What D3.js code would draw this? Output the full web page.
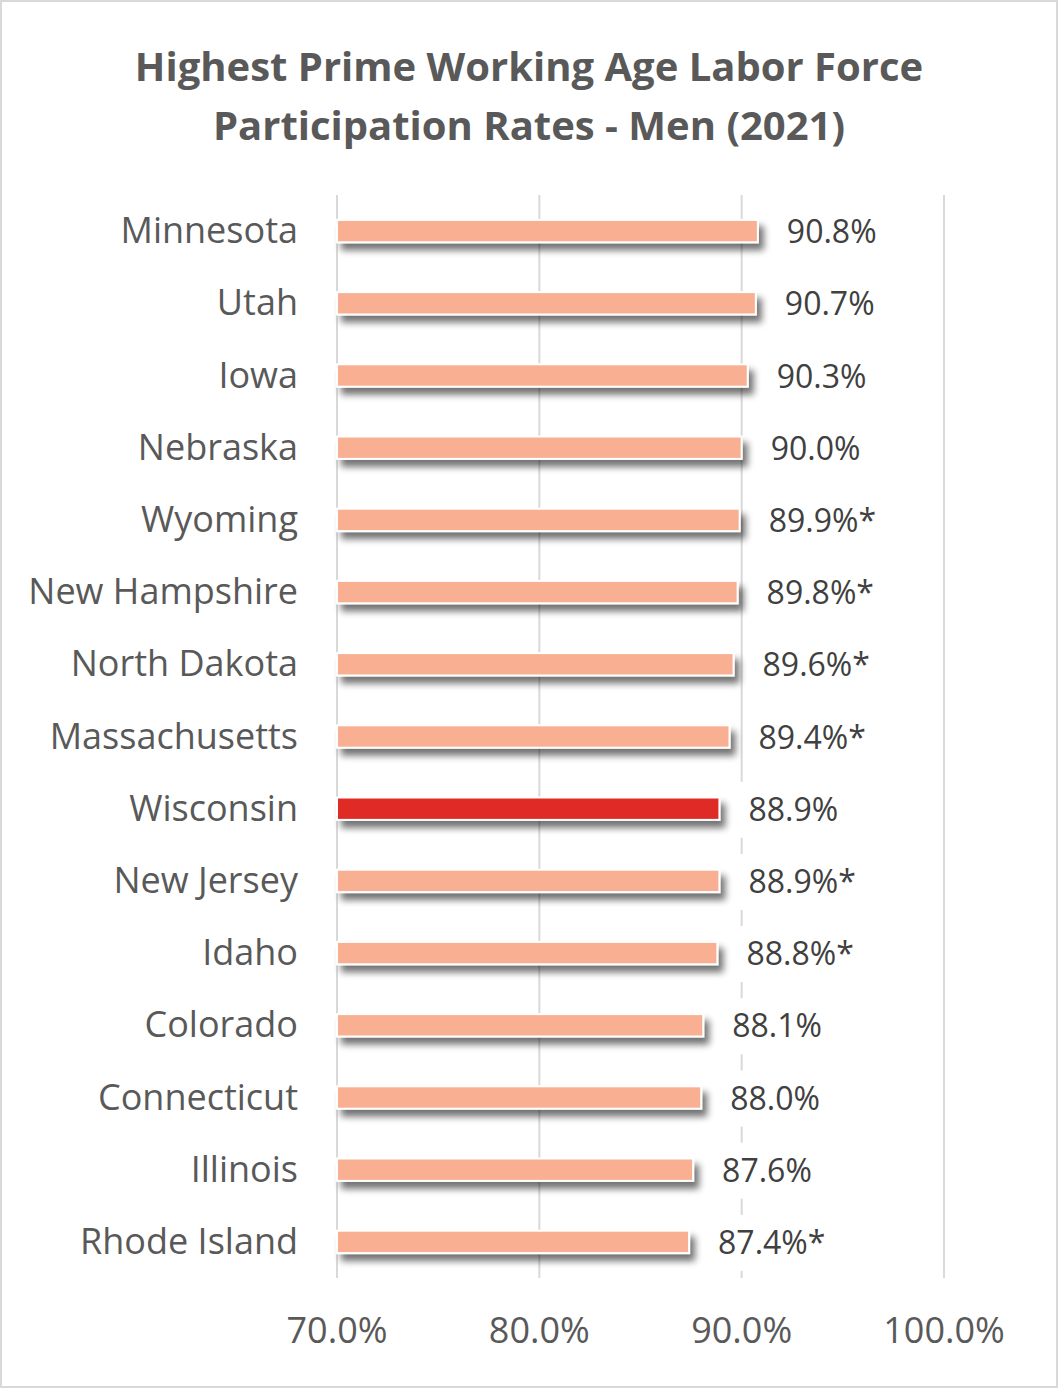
<!DOCTYPE html>
<html>
<head>
<meta charset="utf-8">
<script src="https://cdn.jsdelivr.net/npm/d3@7"></script>
<style>
  html, body { margin: 0; padding: 0; background: #fff; }
  svg { display: block; }
</style>
</head>
<body>
<svg width="1058" height="1388"></svg>
<script>
// data
var states = ['Minnesota', 'Utah', 'Iowa', 'Nebraska', 'Wyoming', 'New Hampshire',
  'North Dakota', 'Massachusetts', 'Wisconsin', 'New Jersey', 'Idaho', 'Colorado',
  'Connecticut', 'Illinois', 'Rhode Island'];
var rates = [90.8, 90.7, 90.3, 90.0, 89.9, 89.8, 89.6, 89.4, 88.9, 88.9, 88.8, 88.1, 88.0, 87.6, 87.4];
var flagged = [false, false, false, false, true, true, true, true, false, true, true, false, false, false, true];
var ticks = [70, 80, 90, 100];
var highlight = 'Wisconsin';

var rows = states.map(function (s, i) {
  return {state: s, rate: rates[i], star: flagged[i]};
});

var svg = d3.select('svg');

// outer frame
svg.append('rect')
  .attr('x', 1).attr('y', 1).attr('width', 1056).attr('height', 1386)
  .attr('fill', '#fff').attr('stroke', '#d9d9d9').attr('stroke-width', 2);

// drop shadow for bars
var defs = svg.append('defs');
var f = defs.append('filter').attr('id', 'shadow')
  .attr('x', '-5%').attr('y', '-60%').attr('width', '115%').attr('height', '260%');
f.append('feGaussianBlur').attr('in', 'SourceAlpha').attr('stdDeviation', 3.5);
f.append('feOffset').attr('dx', 5).attr('dy', 7).attr('result', 'b');
f.append('feComponentTransfer').append('feFuncA').attr('type', 'linear').attr('slope', 0.55);
var m = f.append('feMerge');
m.append('feMergeNode');
m.append('feMergeNode').attr('in', 'SourceGraphic');

// title
var title = svg.append('text')
  .attr('text-anchor', 'middle')
  .attr('font-family', '"Open Sans", sans-serif')
  .attr('font-weight', 'bold')
  .attr('font-size', 40)
  .attr('fill', '#595959');
title.append('tspan').attr('x', 529).attr('y', 81).text('Highest Prime Working Age Labor Force');
title.append('tspan').attr('x', 529).attr('y', 140).text('Participation Rates - Men (2021)');

var x = d3.scaleLinear().domain([70, 100]).range([337, 944]);
var y = d3.scaleBand().domain(states).range([195, 1278]).paddingInner(0.69).paddingOuter(0.345);

// gridlines
svg.append('g').selectAll('line')
  .data(ticks)
  .join('line')
  .attr('x1', function (d) { return x(d); })
  .attr('x2', function (d) { return x(d); })
  .attr('y1', 195).attr('y2', 1278)
  .attr('stroke', '#d9d9d9').attr('stroke-width', 2);

// bars
svg.append('g').selectAll('rect')
  .data(rows)
  .join('rect')
  .attr('x', x(70))
  .attr('y', function (d) { return y(d.state); })
  .attr('width', function (d) { return x(d.rate) - x(70); })
  .attr('height', y.bandwidth())
  .attr('fill', function (d) { return d.state === highlight ? '#df2c27' : '#f9af92'; })
  .attr('stroke', '#fff').attr('stroke-width', 2)
  .attr('filter', 'url(#shadow)');

// value labels with white boxes
var labels = svg.append('g').selectAll('g')
  .data(rows)
  .join('g')
  .attr('transform', function (d) {
    return 'translate(' + (x(d.rate) + 29) + ',' + (y(d.state) + y.bandwidth() / 2) + ')';
  });
labels.append('rect')
  .attr('x', -14).attr('y', -27)
  .attr('width', function (d) { return d.star ? 128 : 110; })
  .attr('height', 56)
  .attr('fill', '#fff');
labels.append('text')
  .attr('y', 12)
  .attr('font-family', '"Open Sans", sans-serif')
  .attr('font-size', 32)
  .attr('fill', '#404040')
  .text(function (d) { return d.rate.toFixed(1) + '%' + (d.star ? '*' : ''); });

// category labels
svg.append('g').selectAll('text')
  .data(rows)
  .join('text')
  .attr('x', 298)
  .attr('y', function (d) { return y(d.state) + y.bandwidth() / 2 + 12; })
  .attr('text-anchor', 'end')
  .attr('font-family', '"Open Sans", sans-serif')
  .attr('font-size', 36)
  .attr('fill', '#595959')
  .text(function (d) { return d.state; });

// x axis tick labels
svg.append('g').selectAll('text')
  .data(ticks)
  .join('text')
  .attr('x', function (d) { return x(d); })
  .attr('y', 1343)
  .attr('text-anchor', 'middle')
  .attr('font-family', '"Open Sans", sans-serif')
  .attr('font-size', 36)
  .attr('fill', '#595959')
  .text(function (d) { return d.toFixed(1) + '%'; });
</script>
</body>
</html>
